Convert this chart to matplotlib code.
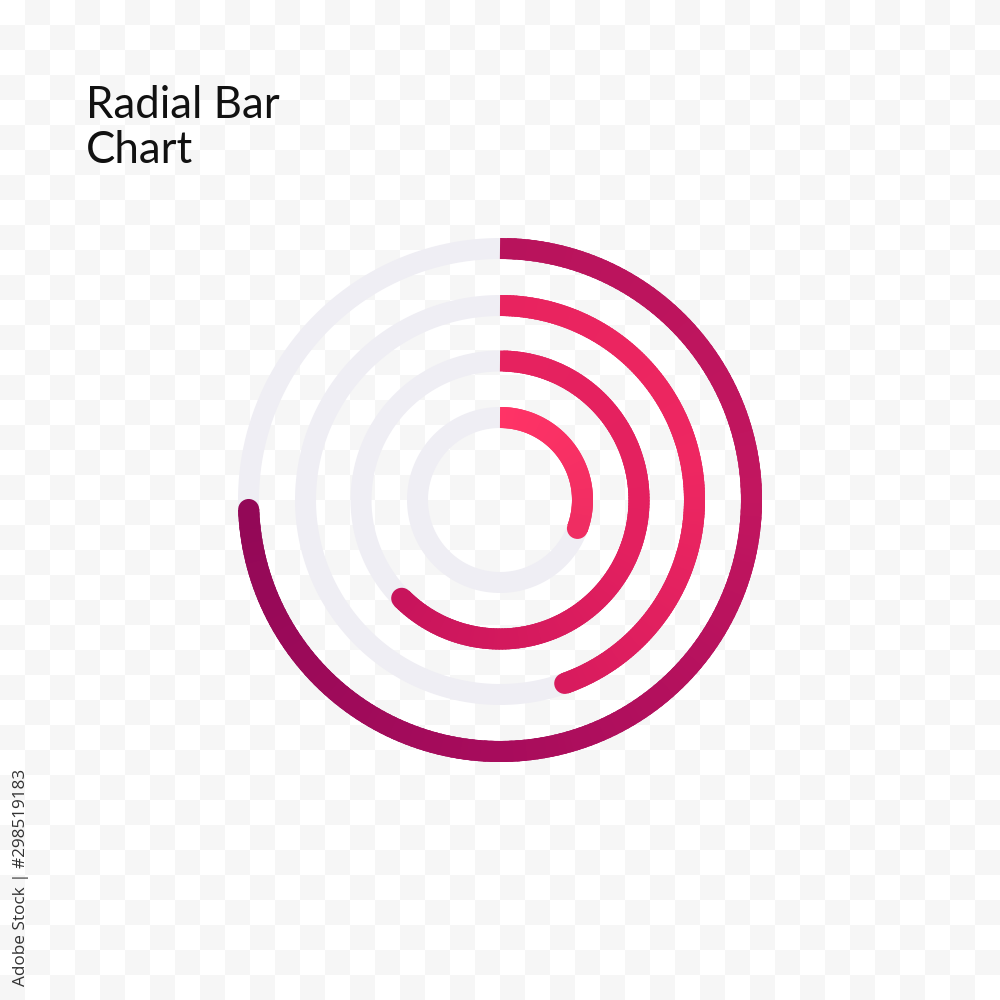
import matplotlib
matplotlib.use("Agg")
import matplotlib.pyplot as plt
import numpy as np
from matplotlib.collections import LineCollection
from matplotlib.colors import LinearSegmentedColormap

# ring data (outer -> inner), values in percent of a full turn
labels = ["A", "B", "C", "D"]
values = [74.4, 44.6, 62.5, 30.6]
radii = [251.5, 194.5, 139, 82.5]
ring_colors = [
    ["#b8135c", "#c2165f", "#a80c5c", "#930857"],
    ["#e8235f", "#ee2761", "#d81b5e"],
    ["#e6225f", "#e3205f", "#c8145c"],
    ["#ff3366", "#f83064", "#ef2d62"],
]
track_color = "#efeef4"
title_lines = ["Radial Bar", "Chart"]
credit = "Adobe Stock | #298519183"

cx, cy = 500, 500
lw_px = 21
lw = lw_px * 72 / 100

fig = plt.figure(figsize=(10, 10), dpi=100)
ax = fig.add_axes([0, 0, 1, 1])
ax.set_xlim(0, 1000)
ax.set_ylim(1000, 0)
ax.axis("off")

# transparent-style checkerboard background
n = 40
board = (np.add.outer(np.arange(n), np.arange(n)) % 2).astype(float)
ax.imshow(board, cmap=LinearSegmentedColormap.from_list("bg", ["#ffffff", "#f6f6f6"]),
          extent=(0, 1000, 1000, 0), interpolation="nearest", zorder=0)


def arc_xy(r, a_deg):
    a = np.radians(a_deg)
    return cx + r * np.sin(a), cy - r * np.cos(a)


for r, v, cols in zip(radii, values, ring_colors):
    # background track
    t = np.linspace(0, 360, 400)
    x, y = arc_xy(r, t)
    ax.plot(x, y, color=track_color, lw=lw, solid_capstyle="butt", zorder=1)

    # gradient bar, short overlapping pieces so no seams show
    cmap = LinearSegmentedColormap.from_list("ring", cols)
    end = v / 100 * 360
    k = 180
    t0 = np.linspace(0, end, k + 1)[:-1]
    step = end / k
    segs = []
    for a in t0:
        tt = np.linspace(a, min(a + step * 2.5, end), 4)
        x, y = arc_xy(r, tt)
        segs.append(np.column_stack([x, y]))
    lc = LineCollection(segs, colors=cmap(np.linspace(0, 1, k)),
                        linewidths=lw, capstyle="butt", joinstyle="round",
                        zorder=2)
    ax.add_collection(lc)
    # flat start at 12 o'clock, rounded end
    ex, ey = arc_xy(r, end)
    ax.add_patch(plt.Circle((ex, ey), lw_px / 2, color=cmap(1.0), lw=0, zorder=3))

ax.text(86, 118, title_lines[0], fontsize=31.5, family=["Lato", "DejaVu Sans"],
        va="baseline", ha="left", color="#111111", zorder=5)
ax.text(86, 163, title_lines[1], fontsize=31.5, family=["Lato", "DejaVu Sans"],
        va="baseline", ha="left", color="#111111", zorder=5)
ax.text(21, 986, credit, fontsize=12.3, family=["Open Sans", "DejaVu Sans"],
        rotation=90, va="bottom", ha="center", color="#333333", zorder=5)

fig.savefig("out.png", dpi=100)
